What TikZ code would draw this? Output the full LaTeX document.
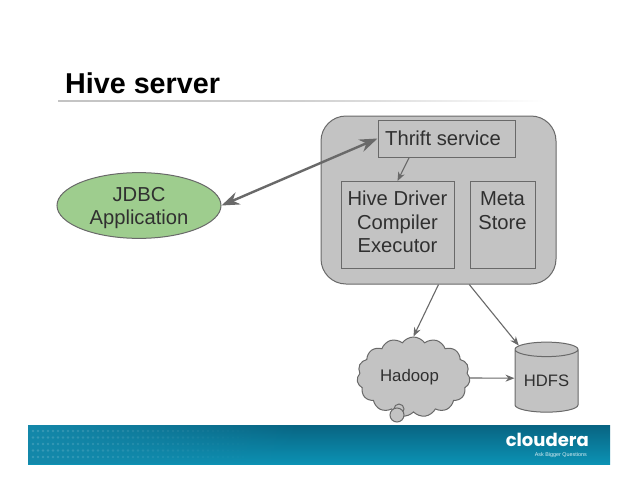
\documentclass[tikz,border=0pt]{standalone}
\usepackage{fontspec}
\setmainfont{Liberation Sans}
\newfontfamily\logofont{Poppins}
\usetikzlibrary{shapes.geometric,shapes.symbols,arrows.meta,fadings}
\definecolor{boxfill}{RGB}{195,195,195}
\definecolor{boxline}{RGB}{105,105,105}
\definecolor{inktext}{RGB}{48,48,48}
\definecolor{appgreen}{RGB}{158,205,142}
\definecolor{diskfill}{RGB}{190,190,190}
\definecolor{disktop}{RGB}{222,222,222}
\definecolor{bandtop}{RGB}{8,100,130}
\definecolor{bandlow}{RGB}{12,146,180}
\definecolor{bandleft}{RGB}{20,136,170}
\tikzset{
  box/.style={draw=boxline, line width=1pt, fill=boxfill, text=inktext, align=center,
              inner sep=0pt, font=\fontsize{20.2}{23.3}\selectfont},
  link/.style={-{Stealth[length=9pt,width=7pt]}, draw=boxline, line width=1.1pt},
  biglink/.style={{Stealth[length=18pt,width=13pt]}-{Stealth[length=18pt,width=13pt]},
                  draw=boxline, line width=2.4pt}
}
\begin{document}
\begin{tikzpicture}[x=1pt,y=-1pt]
\useasboundingbox (0,0) rectangle (638,493);
\fill[white] (0,0) rectangle (638,493);

% title and rule
\node[anchor=base west, inner sep=0pt, text=black, font=\fontsize{28.7}{30}\bfseries\selectfont] (title) at (65,93) {Hive server};
\shade[left color=boxfill, right color=white, middle color=boxfill!80] (58,100.5) rectangle (545,101.5);

% footer band
\shade[top color=bandtop, bottom color=bandlow] (28,425) rectangle (610,464);
\fill[bandleft, path fading=east] (28,425) rectangle (300,464);
\foreach \i in {0,...,44} \foreach \j in {0,...,4}
  \fill[white, opacity={0.16*(1-\i/45)}] ({33+5*\i},{431+6.5*\j}) circle (1.3pt);
\node[anchor=base east, inner sep=0pt, text=white, font=\logofont\bfseries\fontsize{18}{19}\selectfont] (logo) at (589,446.5) {cloudera};
\node[anchor=base east, inner sep=0pt, text=white!85!bandlow, font=\fontsize{5.4}{6}\selectfont] (tag) at (587,456) {Ask Bigger Questions};

% server
\node[box, rounded corners=25pt, minimum width=235pt, minimum height=168pt] (server) at (438.5,200) {};
\node[box, minimum width=137pt, minimum height=37pt] (thrift) at (446.5,138.5) {\hspace*{-7pt}Thrift service};
\node[box, minimum width=113pt, minimum height=87pt, anchor=north] (hive) at (397.5,181) {\rule{0pt}{24pt}Hive Driver\\Compiler\\Executor\rule[-16pt]{0pt}{1pt}};
\node[box, minimum width=65pt, minimum height=87pt, anchor=north] (meta) at (502.5,181) {\rule{0pt}{24pt}Meta\\Store\rule[-39pt]{0pt}{1pt}};

% client
\node[box, ellipse, fill=appgreen, minimum width=164pt, minimum height=65pt] (jdbc) at (139,205.5) {\rule{0pt}{19pt}JDBC\\Application};

% storage side
\node[box, cloud, cloud puffs=15, cloud puff arc=110, aspect=1.5, minimum width=113pt, minimum height=80pt,
      font=\fontsize{16.8}{20}\selectfont] (hadoop) at (413.5,377) {\hspace*{-8pt}Hadoop};
\node[box, circle, minimum size=10pt] (puffb) at (399,409) {};
\node[box, circle, minimum size=14pt] (puffa) at (397,415) {};
\node[box, cylinder, shape border rotate=90, aspect=0.32, cylinder uses custom fill,
      cylinder body fill=diskfill, cylinder end fill=disktop, minimum width=63pt, minimum height=70pt,
      font=\fontsize{16.6}{20}\selectfont] (hdfs) at (546.5,381) {HDFS};

% connectors
\draw[biglink] (jdbc.east) -- (thrift.west);
\draw[link] (thrift.207) -- (hive.north);
\draw[link] (server.south) -- (hadoop.north);
\draw[link] (server.-70.6) -- (hdfs.128);
\draw[link] (hadoop.-1) -- (hdfs.175);
\end{tikzpicture}
\end{document}
